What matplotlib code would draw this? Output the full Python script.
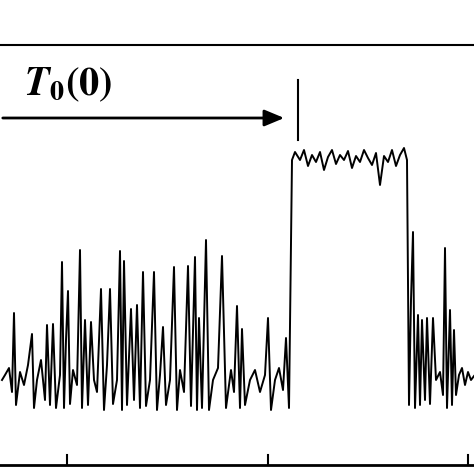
import matplotlib
matplotlib.use("Agg")
import matplotlib.pyplot as plt
plt.rcParams["mathtext.fontset"] = "stix"

# Pre-pulse noise: spike positions, tops and troughs (pixel-like units)
pre_x = [2, 5, 9, 12, 14, 16, 20, 24, 28, 32, 34, 37, 39, 41, 45, 47, 50, 53, 56, 60, 62, 64, 66, 68, 70, 73, 77, 80, 82, 85, 88, 91, 94, 97, 101, 104, 107, 110, 113, 117, 120, 122, 124, 127, 131, 134, 137, 140, 143, 146, 150, 154, 157, 160, 163, 166, 170, 174, 177, 180, 184, 188, 191, 195, 197, 199, 202, 206, 209, 213, 218, 222, 226, 231, 234, 237, 240, 242, 245, 250, 255, 260, 265, 268, 271, 275, 279, 283, 286, 289, 292]
pre_y = [380, 375, 368, 392, 313, 405, 372, 385, 365, 334, 408, 380, 370, 360, 400, 325, 405, 324, 408, 375, 262, 408, 340, 291, 404, 370, 385, 250, 408, 320, 405, 322, 380, 392, 289, 410, 365, 289, 404, 380, 251, 410, 261, 405, 309, 400, 305, 408, 272, 406, 380, 272, 410, 375, 327, 405, 380, 267, 410, 370, 392, 266, 406, 257, 410, 318, 408, 240, 410, 380, 368, 256, 408, 370, 392, 306, 408, 329, 405, 380, 370, 392, 375, 318, 410, 380, 368, 390, 338, 408, 160]
# Pulse plateau
plat_x = [295, 300, 304, 308, 312, 316, 320, 324, 328, 332, 336, 340, 344, 348, 352, 356, 360, 364, 368, 372, 376, 380, 384, 388, 392, 396, 400, 404, 407]
plat_y = [152, 160, 150, 166, 155, 162, 152, 170, 157, 150, 164, 155, 160, 151, 168, 156, 162, 150, 158, 165, 153, 185, 156, 162, 150, 166, 155, 148, 160]
# Post-pulse noise
post_x = [409, 411, 413, 415, 418, 420, 422, 425, 427, 430, 433, 436, 440, 443, 445, 447, 450, 452, 454, 456, 459, 462, 465, 468, 471, 474]
post_y = [405, 300, 232, 408, 315, 405, 320, 400, 318, 404, 318, 380, 372, 395, 248, 408, 310, 405, 330, 395, 375, 368, 385, 372, 380, 376]

x = pre_x + plat_x + post_x
y = pre_y + plat_y + post_y

fig = plt.figure(figsize=(4.74, 4.74), dpi=100)
ax = fig.add_axes([0, 0, 1, 1])
ax.plot(x, y, color="black", lw=1.4)
ax.set_xlim(0, 474)
ax.set_ylim(474, 0)
ax.axhline(45, color="black", lw=1.5)
ax.axhline(465, color="black", lw=2)
for tx in [67, 268, 468]:
    ax.plot([tx, tx], [465, 455], color="black", lw=1.5)
ax.annotate("", xy=(287, 118), xytext=(0, 118),
            arrowprops=dict(arrowstyle="-|>,head_length=1.2,head_width=0.5", color="black", lw=2))
ax.plot([298, 298], [80, 140], color="black", lw=1.5)
ax.text(24, 84, r"$\mathbfit{T}_\mathbf{0}\mathbf{(0)}$", fontsize=29, va="center")
ax.axis("off")
fig.savefig("out.png", dpi=100)
